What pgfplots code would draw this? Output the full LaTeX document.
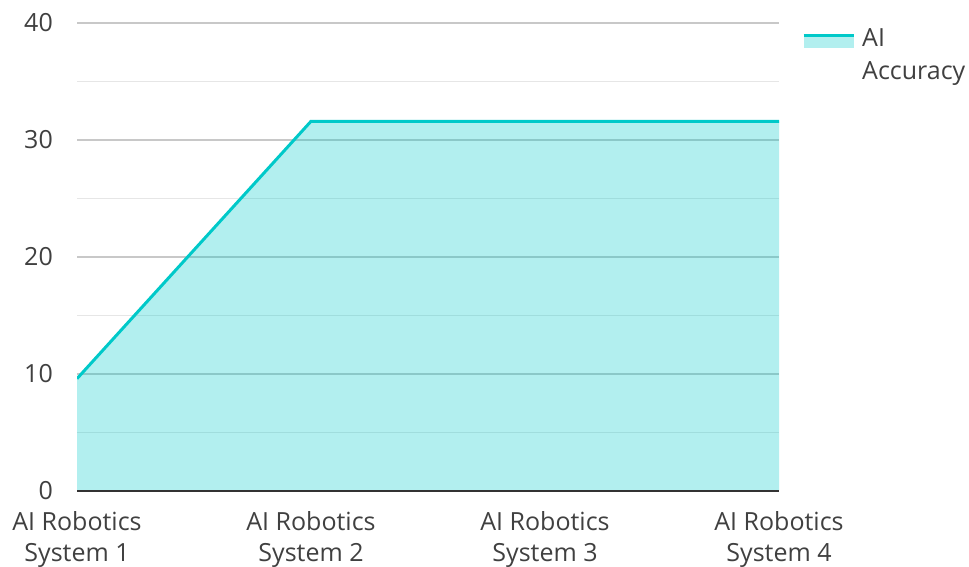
\documentclass[border=0pt]{standalone}
\usepackage{pgfplots}
\pgfplotsset{compat=1.18}
\usepackage{fontspec}
\setmainfont{Open Sans}
\definecolor{lc}{HTML}{00C9C9}
\definecolor{txt}{HTML}{404040}
\definecolor{gmaj}{HTML}{C8C8C8}
\definecolor{gmin}{HTML}{E6E6E6}
\begin{document}
\begin{tikzpicture}[x=1pt,y=1pt]
\useasboundingbox (0,0) rectangle (969,566);
\begin{axis}[at={(77pt,75pt)}, anchor=south west, scale only axis, width=702pt, height=468pt,
 xmin=0, xmax=3, ymin=0, ymax=40,
 xtick={0,1,2,3},
 xticklabels={AI Robotics\\System 1, AI Robotics\\System 2, AI Robotics\\System 3, AI Robotics\\System 4},
 ytick={0,10,20,30,40}, minor ytick={5,15,25,35},
 ymajorgrids, yminorgrids,
 major grid style={gmaj, line width=1.2pt}, minor grid style={gmin, line width=1.2pt},
 major tick length=0pt, minor tick length=0pt,
 axis x line*=bottom, axis y line*=left,
 x axis line style={-, draw=black!80, line width=2pt}, y axis line style={draw=none},
 tick label style={font=\fontsize{25}{31}\selectfont, text=txt},
 xticklabel style={align=center, inner sep=0pt, yshift=-20pt},
 yticklabel style={inner sep=0pt, xshift=-24pt},
 /pgf/number format/assume math mode=true,
 legend style={at={(1,1)}, anchor=north west, xshift=23pt, yshift=-5pt, draw=none, fill=none,
   font=\fontsize{25}{33}\selectfont, text=txt, inner sep=0pt, column sep=7pt,
   nodes={inner sep=0pt, align=left}, cells={anchor=north west}},
]
\addplot[fill=lc, fill opacity=0.3, draw=none, forget plot] coordinates {(0,0.09) (0,9.6) (1,31.6) (2,31.6) (3,31.6) (3,0.09)} -- cycle;
\addplot[lc, line width=3pt, mark=none,
  legend image code/.code={
    \path[fill=lc, fill opacity=0.3, draw=none] (0pt,-20pt) rectangle (50pt,-5.6pt);
    \draw[lc, line width=3pt] (0pt,-7.1pt) -- (50pt,-7.1pt);}]
  coordinates {(0,9.6) (1,31.6) (2,31.6) (3,31.6)};
\addlegendentry{AI\\Accuracy}
\end{axis}
\end{tikzpicture}
\end{document}
